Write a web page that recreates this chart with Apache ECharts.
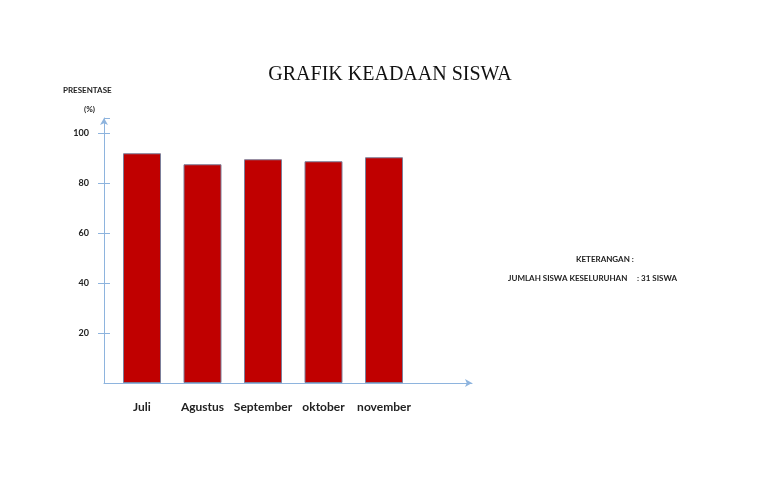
<!DOCTYPE html>
<html lang="id">
<head>
    <meta charset="UTF-8">
    <title>Grafik Keadaan Siswa</title>
    <style>
        html, body { margin: 0; padding: 0; background: #fff; }
        #main { width: 768px; height: 489px; }
    </style>
    <script src="https://cdn.jsdelivr.net/npm/echarts@6/dist/echarts.min.js"></script>
</head>
<body>
<div id="main"></div>
<script>
    // data
    let bulan = ['Juli', 'Agustus', 'September', 'oktober', 'november'];
    let persen = [91.9, 87.5, 89.5, 88.7, 90.3];
    let yTicks = [20, 40, 60, 80, 100];

    let axisBlue = '#8eb4de';
    let lblFont = 'Lato, "DejaVu Sans", sans-serif';
    let yMax = 106;

    let chart = echarts.init(document.getElementById('main'));

    let option = {
        backgroundColor: '#fff',
        animation: false,
        title: {
            text: 'GRAFIK KEADAAN SISWA',
            left: 385,
            top: 60,
            textAlign: 'center',
            textStyle: {
                fontFamily: '"Liberation Serif", "DejaVu Serif", serif',
                fontSize: 20,
                fontWeight: 'normal',
                color: '#111'
            }
        },
        grid: [
            // bars
            { left: 111.75, top: 118, width: 302.5, height: 265 },
            // axes with arrows
            { left: 104, top: 118, width: 368, height: 265 },
            // right half of the crossing ticks
            { left: 110, top: 118, width: 362, height: 265 }
        ],
        xAxis: [
            {
                type: 'category',
                gridIndex: 0,
                data: bulan,
                axisLine: { show: false },
                axisTick: { show: false },
                axisLabel: {
                    interval: 0,
                    margin: 18,
                    fontFamily: lblFont,
                    fontSize: 12,
                    fontWeight: 'bold',
                    color: '#222'
                }
            },
            {
                type: 'value',
                gridIndex: 1,
                min: 0,
                max: 1,
                axisLine: {
                    lineStyle: { color: axisBlue, width: 1 },
                    symbol: ['none', 'arrow'],
                    symbolSize: [6, 7]
                },
                axisTick: { show: false },
                axisLabel: { show: false },
                splitLine: { show: false }
            },
            {
                type: 'value',
                gridIndex: 2,
                min: 0,
                max: 1,
                show: false
            }
        ],
        yAxis: [
            {
                type: 'value',
                gridIndex: 0,
                min: 0,
                max: yMax,
                show: false
            },
            {
                type: 'value',
                gridIndex: 1,
                min: 0,
                max: yMax,
                interval: 20,
                axisLine: {
                    show: true,
                    lineStyle: { color: axisBlue, width: 1 },
                    symbol: ['none', 'arrow'],
                    symbolSize: [6, 7]
                },
                axisTick: {
                    show: true,
                    length: 6,
                    lineStyle: { color: axisBlue }
                },
                axisLabel: {
                    margin: 15,
                    showMinLabel: false,
                    showMaxLabel: false,
                    fontFamily: lblFont,
                    fontSize: 9,
                    fontWeight: 'bold',
                    color: '#222',
                    formatter: function (v) {
                        return yTicks.indexOf(v) >= 0 ? String(v) : '';
                    }
                },
                splitLine: { show: false }
            },
            {
                type: 'value',
                gridIndex: 2,
                min: 0,
                max: yMax,
                interval: 20,
                axisLine: { show: true, lineStyle: { color: 'rgba(0,0,0,0)' } },
                axisTick: {
                    show: true,
                    length: 6,
                    lineStyle: { color: axisBlue }
                },
                axisLabel: { show: false },
                splitLine: { show: false }
            }
        ],
        graphic: [
            {
                type: 'text', left: 63, top: 86,
                style: { text: 'PRESENTASE', font: 'bold 8px ' + lblFont, fill: '#222' }
            },
            {
                type: 'text', left: 84, top: 105,
                style: { text: '(%)', font: 'bold 8px ' + lblFont, fill: '#222' }
            },
            {
                type: 'text', left: 576, top: 255,
                style: { text: 'KETERANGAN :', font: 'bold 8px ' + lblFont, fill: '#222' }
            },
            {
                type: 'text', left: 508, top: 274,
                style: { text: 'JUMLAH SISWA KESELURUHAN     : 31 SISWA', font: 'bold 8px ' + lblFont, fill: '#222' }
            }
        ],
        series: [{
            type: 'bar',
            xAxisIndex: 0,
            yAxisIndex: 0,
            data: persen,
            barWidth: 38,
            itemStyle: {
                color: '#c00000',
                borderColor: '#7c7f9a',
                borderWidth: 1
            }
        }]
    };

    chart.setOption(option);
</script>
</body>
</html>
